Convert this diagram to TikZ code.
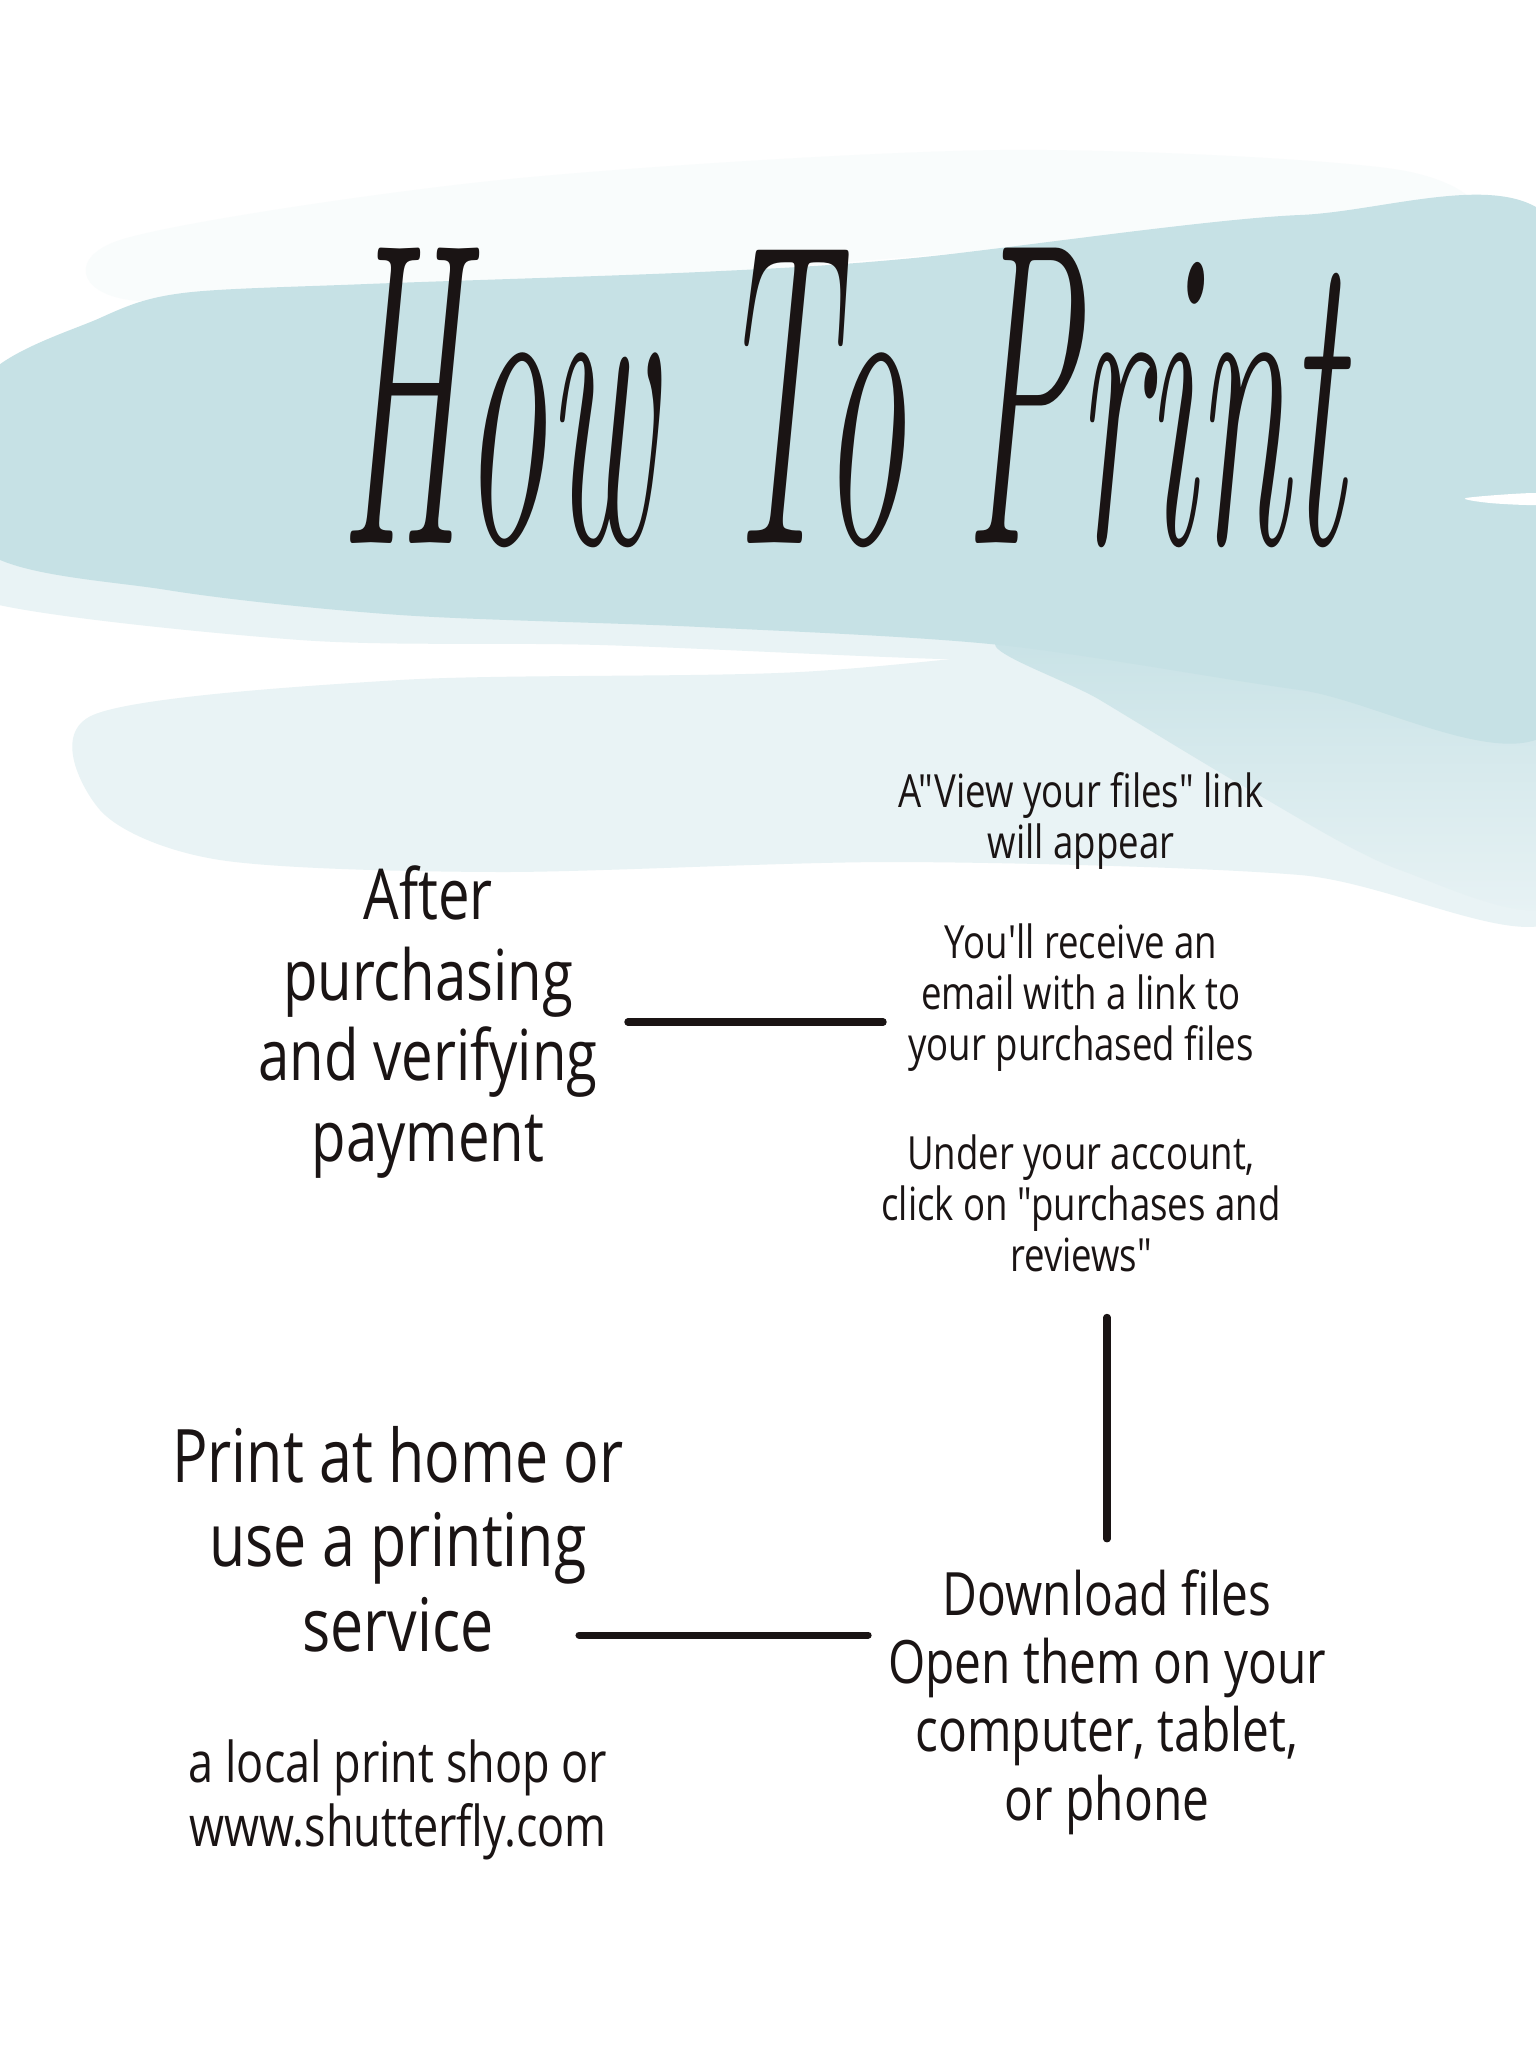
\documentclass[tikz,border=0pt]{standalone}
\usepackage{fontspec}
\usepackage{graphicx}
\usepackage{xcolor}
\usepackage{tikz}
\newfontfamily\handfont{Open Sans}[FakeStretch=0.8]
\definecolor{wash}{RGB}{198,225,229}
\definecolor{washmid}{RGB}{215,234,237}
\definecolor{washlight}{RGB}{233,243,245}
\definecolor{ink}{RGB}{26,20,20}

\begin{document}
\begin{tikzpicture}[x=0.01cm,y=-0.01cm,
  hand/.style={align=center,inner sep=0pt,text=ink},
  small/.style={hand,font=\handfont\fontsize{13}{14.5}\selectfont},
  big/.style={hand,font=\handfont\fontsize{20}{23}\selectfont},
  link/.style={draw=ink,line width=2pt,line cap=round}]
  \fill[white] (0,0) rectangle (1536,2048);
  \useasboundingbox (0,0) rectangle (1536,2048);
  \fill[wash!10] plot[smooth cycle] coordinates {(120,240) (500,180) (1000,150) (1400,170) (1450,225) (1000,250) (500,290) (130,300)};
  \fill[washlight] plot[smooth cycle] coordinates {(93,715) (400,680) (800,672) (1150,640) (1560,620) (1560,917) (1300,875) (900,862) (500,872) (220,860) (100,810)};
  \fill[washlight] plot[smooth cycle] coordinates {(-20,530) (400,600) (700,622) (1000,636) (1000,660) (600,645) (300,640) (-20,600)};
  \shade[top color=wash,bottom color=washlight] plot[smooth cycle] coordinates {(1000,640) (1300,640) (1560,650) (1560,900) (1400,870) (1250,790) (1100,700)};
  \fill[wash] plot[smooth cycle] coordinates {(-20,385) (100,318) (183,293) (367,284) (700,272) (914,258) (1300,215) (1560,232) (1560,720) (1300,690) (1000,645) (700,627) (400,615) (167,590) (-20,547)};
  \fill[white] plot[smooth cycle] coordinates {(1466,498) (1536,493) (1550,500) (1536,505) (1490,503)};

  \node[hand] (title) at (842,398) {\scalebox{0.39}[1]{\normalfont\itshape\fontsize{123}{123}\selectfont How To Print}};

  \node[small,minimum width=3.94cm] (views) at (1081,821) {A"View your files" link\\will appear};
  \node[small,minimum width=3.94cm] (email) at (1081,998) {You'll receive an\\email with a link to\\your purchased files};
  \node[small] (account) at (1081,1203) {Under your account,\\click on "purchases and\\reviews"};
  \node[big,minimum width=3.98cm] (after) at (428,1022) {After\\purchasing\\and verifying\\payment};
  \node[hand,font=\handfont\fontsize{21}{24}\selectfont] (printhome) at (398,1539) {Print at home or\\use a printing\\service};
  \node[hand,minimum width=4.76cm,font=\handfont\fontsize{17}{19.4}\selectfont] (download) at (1107,1702) {Download files\\Open them on your\\computer, tablet,\\or phone};
  \node[hand,font=\handfont\fontsize{16}{18.2}\selectfont] (shop) at (398,1800) {a local print shop or\\www.shutterfly.com};

  \coordinate (l2) at (579,1635);
  \draw[link] (after.east) -- (after.east -| email.west);
  \draw[link,shorten <=0.45cm,shorten >=0.3cm] (download.north |- account.south) -- (download.north);
  \draw[link] (l2) -- (l2 -| download.west);
\end{tikzpicture}
\end{document}
